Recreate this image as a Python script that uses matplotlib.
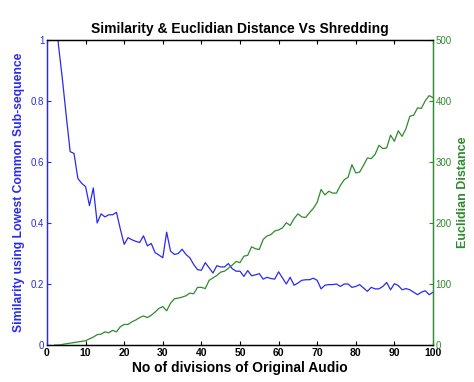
import matplotlib
matplotlib.use("Agg")
import matplotlib.pyplot as plt

plt.rcParams['font.family'] = ['Liberation Sans', 'DejaVu Sans']

divisions = list(range(2, 101))
similarity = [
    1.12, 0.98, 0.87, 0.75, 0.634, 0.628, 0.546, 0.53, 0.519,   # 2-10
    0.457, 0.515, 0.40, 0.43, 0.42, 0.427, 0.427, 0.435, 0.38, 0.33,  # 11-20
    0.352, 0.345, 0.34, 0.336, 0.358, 0.325, 0.333, 0.303, 0.295, 0.286,  # 21-30
    0.37, 0.308, 0.297, 0.30, 0.314, 0.297, 0.286, 0.264, 0.247, 0.245,  # 31-40
    0.27, 0.253, 0.236, 0.26, 0.256, 0.256, 0.267, 0.25, 0.242, 0.242,  # 41-50
    0.225, 0.244, 0.227, 0.23, 0.234, 0.216, 0.222, 0.218, 0.216, 0.24,  # 51-60
    0.22, 0.20, 0.222, 0.196, 0.203, 0.212, 0.214, 0.214, 0.219, 0.212,  # 61-70
    0.184, 0.196, 0.198, 0.198, 0.20, 0.192, 0.20, 0.20, 0.189, 0.192,  # 71-80
    0.198, 0.187, 0.176, 0.189, 0.184, 0.184, 0.192, 0.205, 0.181, 0.201,  # 81-90
    0.195, 0.181, 0.185, 0.181, 0.173, 0.165, 0.173, 0.178, 0.165, 0.173,  # 91-100
]
euclidean = [
    0, 0, 1, 2, 3, 4, 5, 6, 7,  # 2-10
    10, 13, 17, 17.7, 21.5, 20, 24, 21.5, 30, 33.7,  # 11-20
    33.7, 38, 41, 45, 47.5, 45, 48.6, 54, 60, 63,  # 21-30
    56, 68.5, 75.7, 77, 78.5, 80.7, 85, 84, 94.5, 94.5,  # 31-40
    92.5, 106, 110, 114, 119.5, 121, 126, 131, 137, 135,  # 41-50
    145.6, 147, 161, 157.7, 156.6, 173, 178.6, 181, 187, 188.5,  # 51-60
    192, 200.5, 196, 207, 215, 210, 209, 217, 224, 234,  # 61-70
    255, 246, 252, 249, 249, 261.6, 271, 275, 295.6, 282,  # 71-80
    283.6, 294.5, 306.6, 305.5, 312.6, 327.4, 322, 323, 344, 334,  # 81-90
    351, 342, 354.8, 375, 376.7, 388.8, 388, 400.5, 408.8, 405.5,  # 91-100
]

blue = '#2a2aee'
green = '#2e8b2e'

fig = plt.figure(figsize=(4.74, 3.82), dpi=100)
ax = fig.add_axes([47/474, 1-345/382, (433-47)/474, (345-40)/382])
ax2 = ax.twinx()

ax.plot(divisions, similarity, color=blue, lw=0.9)
ax2.plot(divisions, euclidean, color=green, lw=0.9)

ax.set_xlim(0, 100)
ax.set_ylim(0, 1)
ax2.set_ylim(0, 500)
ax.set_xticks(range(0, 101, 10))
ax.set_yticks([0, 0.2, 0.4, 0.6, 0.8, 1])
ax.set_yticklabels(['0', '0.2', '0.4', '0.6', '0.8', '1'])
ax2.set_yticks(range(0, 501, 100))

ax.tick_params(axis='x', direction='in', top=True, labelsize=7.5, length=3, width=0.8, pad=2)
for lbl in ax.get_xticklabels():
    lbl.set_fontweight('bold')
ax.tick_params(axis='y', direction='in', colors=blue, labelsize=7, length=3, width=0.8, pad=2)
ax2.tick_params(axis='y', direction='in', colors=green, labelsize=7, length=3, width=0.8, pad=2)

for a in (ax, ax2):
    a.spines['left'].set_color(blue)
    a.spines['right'].set_color(green)
    a.spines['top'].set_color('black')
    a.spines['bottom'].set_color('black')
    for s in a.spines.values():
        s.set_linewidth(0.9)

ax.set_title('Similarity & Euclidian Distance Vs Shredding', fontsize=10, fontweight='bold', pad=5)
ax.set_xlabel('No of divisions of Original Audio', fontsize=10, fontweight='bold', labelpad=2)
ax.set_ylabel('Similarity using Lowest Common Sub-sequence', fontsize=8.7, fontweight='bold', color=blue, labelpad=4)
ax2.set_ylabel('Euclidian Distance', fontsize=9, fontweight='bold', color=green, labelpad=4)

fig.savefig('out.png', dpi=100)
